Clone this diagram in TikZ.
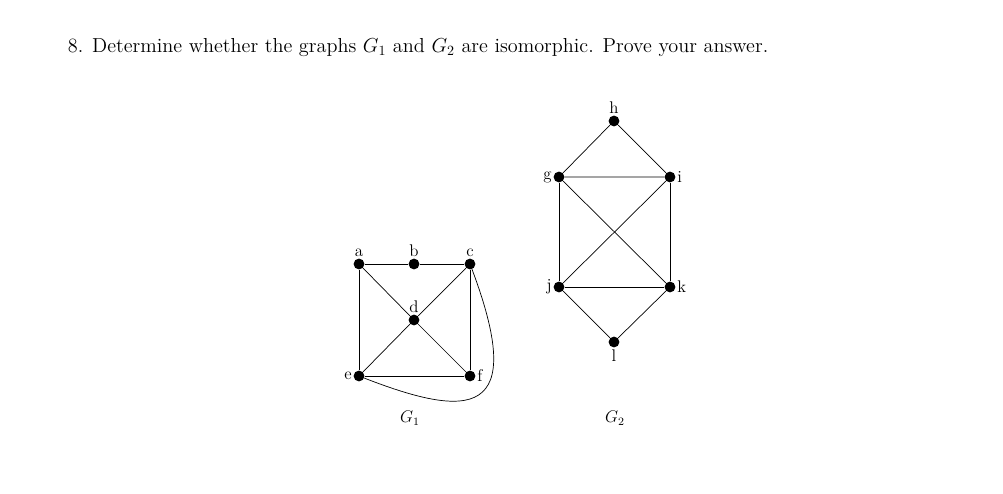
\documentclass[tikz,border=0pt]{standalone}
\begin{document}
\begin{tikzpicture}[x=0.025cm,y=-0.025cm,
  vtx/.style={circle,fill=black,inner sep=0pt,minimum size=0.27cm},
  lab/.style={font=\large},
  edge/.style={line width=0.5pt}]
\useasboundingbox (0,0) rectangle (1003,493);
\node[anchor=west,font=\Large] (title) at (63,48) {8. Determine whether the graphs $G_1$ and $G_2$ are isomorphic. Prove your answer.};
\node[vtx,label={[lab,inner sep=1pt]above:a}] (a) at (359,264) {};
\node[vtx,label={[lab,inner sep=1pt]above:b}] (b) at (414,264) {};
\node[vtx,label={[lab,inner sep=1pt]above:c}] (c) at (470,264) {};
\node[vtx,label={[lab,inner sep=1pt]above:d}] (d) at (414,320) {};
\node[vtx,label={[lab,inner sep=1pt]left:e}] (e) at (359,376) {};
\node[vtx,label={[lab,inner sep=1pt]right:f}] (f) at (470,376) {};
\draw[edge] (a)--(b)--(c)--(f)--(e)--(a);
\draw[edge] (a)--(d)--(f);
\draw[edge] (c)--(d)--(e);
\draw[edge] (c.center) .. controls (530,420) and (470,420) .. (e.center);
\node[vtx,label={[lab,inner sep=1pt]above:h}] (h) at (614,121) {};
\node[vtx,label={[lab,inner sep=1pt]left:g}] (g) at (559,177) {};
\node[vtx,label={[lab,inner sep=1pt]right:i}] (i) at (670,177) {};
\node[vtx,label={[lab,inner sep=1pt]left:j}] (j) at (559,287) {};
\node[vtx,label={[lab,inner sep=1pt]right:k}] (k) at (670,287) {};
\node[vtx,label={[lab,inner sep=1pt]below:l}] (l) at (614,342) {};
\draw[edge] (h)--(g)--(i)--(h);
\draw[edge] (g)--(j)--(k)--(i);
\draw[edge] (g)--(k);
\draw[edge] (i)--(j);
\draw[edge] (j)--(l)--(k);
\node[font=\large] (G1) at (410,418) {$G_1$};
\node[font=\large] (G2) at (615,418) {$G_2$};
\end{tikzpicture}
\end{document}
